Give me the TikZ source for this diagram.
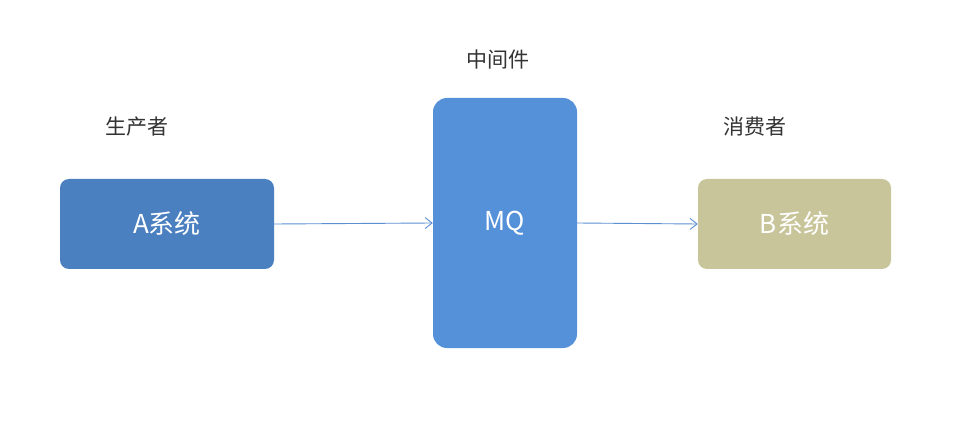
\documentclass[tikz,border=0pt]{standalone}
\usepackage{fontspec}
\setmainfont{Noto Sans CJK SC}
\usetikzlibrary{arrows.meta}
\definecolor{aco}{HTML}{4A7FC0}
\definecolor{mqc}{HTML}{5591D9}
\definecolor{bco}{HTML}{C9C59A}
\definecolor{arr}{HTML}{5B8FD0}
\definecolor{lbl}{HTML}{333333}
\begin{document}
\begin{tikzpicture}[x=1pt,y=-1pt,
  box/.style={rounded corners=9pt,inner sep=0pt,text=white,font=\fontsize{26}{30}\selectfont},
  lab/.style={text=lbl,font=\fontsize{21}{25}\selectfont},
  conn/.style={arr,line width=0.9pt,-{Straight Barb[length=7pt,width=11pt]}}]
\useasboundingbox[fill=white] (0,0) rectangle (978,422);
\node[box,fill=aco,minimum width=214pt,minimum height=90pt] (a) at (167,224) {A系统};
\node[box,fill=mqc,minimum width=144pt,minimum height=250pt,rounded corners=14pt] (mq) at (505,223) {MQ};
\node[box,fill=bco,minimum width=193pt,minimum height=90pt] (b) at (794.5,224) {B系统};
\node[lab] (la) at (137,127) {生产者};
\node[lab] (lm) at (498,60) {中间件};
\node[lab] (lb) at (755,127) {消费者};
\draw[conn] (a.east) -- (mq.west);
\draw[conn] (mq.east) -- (b.west);
\end{tikzpicture}
\end{document}
